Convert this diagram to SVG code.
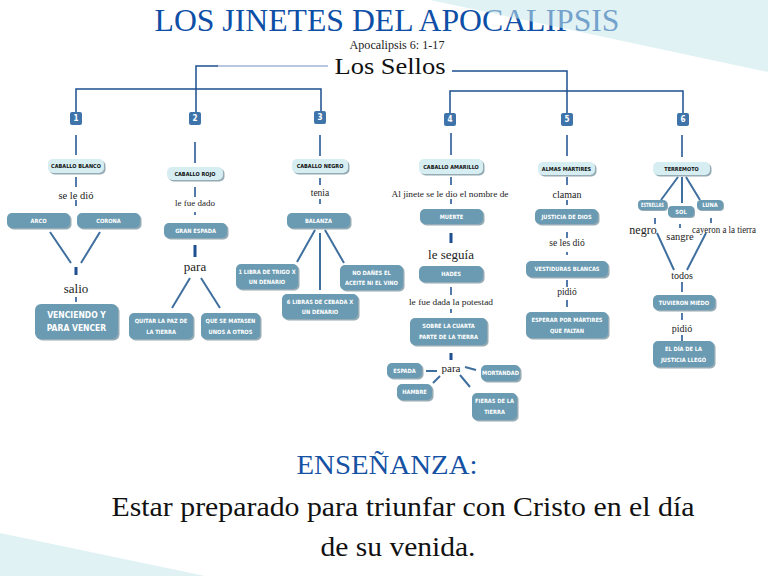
<svg xmlns="http://www.w3.org/2000/svg" width="768" height="576" viewBox="0 0 768 576">
<defs>
<style>
.ln{fill:#d6eef2;stroke:none}
.sn{fill:#6b9bb2;stroke:none}
.sh{fill:#3f6677;opacity:0.55}
.nb{fill:#3f74aa}
.nbt{font-family:"DejaVu Sans Condensed","DejaVu Sans",sans-serif;font-weight:bold;font-size:8px;fill:#fff;text-anchor:middle;dominant-baseline:central}
.lt{font-family:"DejaVu Sans Condensed","DejaVu Sans",sans-serif;font-weight:bold;font-size:5.5px;fill:#111;text-anchor:middle;dominant-baseline:central}
.st{font-family:"DejaVu Sans Condensed","DejaVu Sans",sans-serif;font-weight:bold;font-size:5.7px;fill:#fff;text-anchor:middle;dominant-baseline:central}
.big{font-size:8.5px}
.lbl{font-family:"Liberation Serif",serif;fill:#222;text-anchor:middle;dominant-baseline:central}
.c{fill:none;stroke:#1d4f91;stroke-width:1.5}
.ck{fill:none;stroke:#1d4f91;stroke-width:3}
.cd{fill:none;stroke:#3f6f9f;stroke-width:2}
</style>
</defs>
<rect width="768" height="576" fill="#ffffff"/>
<polygon points="0,533 205,576 0,576" fill="#c9e8eb" opacity="0.55"/>

<text x="387" y="31" font-family="Liberation Serif,serif" font-size="32" fill="#0d4ea6" text-anchor="middle" textLength="465" lengthAdjust="spacingAndGlyphs">LOS JINETES DEL APOCALIPSIS</text>
<polygon points="430,0 768,0 768,72" fill="#c9e8eb" opacity="0.55"/>
<text x="397" y="49" font-family="Liberation Serif,serif" font-size="11.5" fill="#222" text-anchor="middle" textLength="95" lengthAdjust="spacingAndGlyphs">Apocalipsis 6: 1-17</text>
<text x="390" y="74" font-family="Liberation Serif,serif" font-size="24" fill="#111" text-anchor="middle" textLength="111" lengthAdjust="spacingAndGlyphs">Los Sellos</text>

<g id="connectors">
<path class="c" d="M218,66 H196 V89"/>
<path d="M218,66 H328" fill="none" stroke="#9fb6d6" stroke-width="1.5"/>
<path class="c" d="M76,112 V89 H321 V112 M196,89 V113"/>
<path class="c" d="M452,71 H567 V91 M450,115 V91 H683 V115 M567,91 V115"/>
<path class="c" d="M76,135 V155 M76,177 V187 M76,200 V206 M76,297 V302"/>
<path class="cd" d="M50,232 L71,263 M100,232 L81,263"/>
<path class="ck" d="M76,267 V275"/>
<path class="c" d="M195,142 V163 M195,187 V197 M195,212 V215"/>
<path class="ck" d="M195,245 V257"/>
<path class="cd" d="M190,278 L172,308 M201,278 L220,308"/>
<path class="c" d="M320,135 V156 M320,178 V185 M320,199 V204"/>
<path class="cd" d="M315,230 L297,262 M320,233 V290 M325,230 L344,263"/>
<path class="c" d="M451,133 V155 M451,177 V185 M451,199 V204 M451,287 V295 M451,309 V313"/>
<path class="ck" d="M451,233 V243 M451,353 V360"/>
<path class="cd" d="M426,371 H437 M465,367 L476,370 M433,383 L440,376 M460,375 L470,387"/>
<path class="c" d="M567,135 V156 M567,177 V185 M567,200 V205 M567,232 V238 M567,252 V255 M567,280 V287 M567,300 V307"/>
<path class="c" d="M682,135 V157 M655,218 V224 M680,224 V228 M711,218 V223 M682,282 V292 M682,313 V320 M682,335 V341"/>
<path class="cd" d="M678,177 L661,200 M682,177 V203 M686,177 L700,200 M657,233 L674,270 M706,233 L687,270"/>
</g>

<g id="n1"><rect class="nb" x="70" y="112" width="12" height="13" rx="2"/><text class="nbt" x="76" y="118.5">1</text></g>
<g id="n2"><rect class="nb" x="189" y="112" width="12" height="13" rx="2"/><text class="nbt" x="195" y="118.5">2</text></g>
<g id="n3"><rect class="nb" x="314" y="111" width="12" height="13" rx="2"/><text class="nbt" x="320" y="117.5">3</text></g>
<g id="n4"><rect class="nb" x="444" y="113" width="12" height="13" rx="2"/><text class="nbt" x="450" y="119.5">4</text></g>
<g id="n5"><rect class="nb" x="561" y="113" width="12" height="13" rx="2"/><text class="nbt" x="567" y="119.5">5</text></g>
<g id="n6"><rect class="nb" x="677" y="113" width="12" height="13" rx="2"/><text class="nbt" x="683" y="119.5">6</text></g>

<g id="caballo-blanco"><rect class="sh" x="49.5" y="160.5" width="56" height="14" rx="5"/><rect class="ln" x="48" y="159" width="56" height="14" rx="5"/><text class="lt" x="76" y="166">CABALLO BLANCO</text></g>
<g id="caballo-rojo"><rect class="sh" x="168.5" y="168.5" width="56" height="13" rx="5"/><rect class="ln" x="167" y="167" width="56" height="13" rx="5"/><text class="lt" x="195" y="173.5">CABALLO ROJO</text></g>
<g id="caballo-negro"><rect class="sh" x="293.5" y="160.5" width="56" height="14" rx="5"/><rect class="ln" x="292" y="159" width="56" height="14" rx="5"/><text class="lt" x="320" y="166">CABALLO NEGRO</text></g>
<g id="caballo-amarillo"><rect class="sh" x="420.5" y="160.5" width="64" height="15" rx="5"/><rect class="ln" x="419" y="159" width="64" height="15" rx="5"/><text class="lt" x="451" y="166.5">CABALLO AMARILLO</text></g>
<g id="almas-martires"><rect class="sh" x="539.5" y="163.5" width="57" height="13" rx="5"/><rect class="ln" x="538" y="162" width="57" height="13" rx="5"/><text class="lt" x="566.5" y="168.5">ALMAS MÁRTIRES</text></g>
<g id="terremoto"><rect class="sh" x="654.5" y="163.5" width="57" height="13" rx="5"/><rect class="ln" x="653" y="162" width="57" height="13" rx="5"/><text class="lt" x="681.5" y="168.5">TERREMOTO</text></g>

<g id="arco"><rect class="sh" x="8.5" y="214.5" width="63" height="15" rx="5"/><rect class="sn" x="7" y="213" width="63" height="15" rx="5"/><text class="st" x="38.5" y="220.5">ARCO</text></g>
<g id="corona"><rect class="sh" x="78.5" y="214.5" width="63" height="15" rx="5"/><rect class="sn" x="77" y="213" width="63" height="15" rx="5"/><text class="st" x="108.5" y="220.5">CORONA</text></g>
<g id="venciendo"><rect class="sh" x="36.5" y="305.5" width="83" height="35" rx="6"/><rect class="sn" x="35" y="304" width="83" height="35" rx="6"/><text class="st big" x="76.5" y="315">VENCIENDO Y</text><text class="st big" x="76.5" y="328">PARA VENCER</text></g>

<g id="gran-espada"><rect class="sh" x="165.5" y="224.5" width="63" height="15" rx="5"/><rect class="sn" x="164" y="223" width="63" height="15" rx="5"/><text class="st" x="195.5" y="230.5">GRAN ESPADA</text></g>
<g id="quitar-paz"><rect class="sh" x="130.5" y="314.5" width="64" height="26" rx="5"/><rect class="sn" x="129" y="313" width="64" height="26" rx="5"/><text class="st" x="161" y="321">QUITAR LA PAZ DE</text><text class="st" x="161" y="332">LA TIERRA</text></g>
<g id="matasen"><rect class="sh" x="202.5" y="314.5" width="59" height="26" rx="5"/><rect class="sn" x="201" y="313" width="59" height="26" rx="5"/><text class="st" x="230.5" y="321">QUE SE MATASEN</text><text class="st" x="230.5" y="332">UNOS A OTROS</text></g>

<g id="balanza"><rect class="sh" x="288.5" y="214.5" width="63" height="15" rx="5"/><rect class="sn" x="287" y="213" width="63" height="15" rx="5"/><text class="st" x="318.5" y="220.5">BALANZA</text></g>
<g id="trigo"><rect class="sh" x="237.5" y="265.5" width="62" height="25" rx="5"/><rect class="sn" x="236" y="264" width="62" height="25" rx="5"/><text class="st" x="267" y="271.5">1 LIBRA DE TRIGO X</text><text class="st" x="267" y="282">UN DENARIO</text></g>
<g id="cebada"><rect class="sh" x="283.5" y="295.5" width="76" height="25" rx="5"/><rect class="sn" x="282" y="294" width="76" height="25" rx="5"/><text class="st" x="320" y="301.5">6 LIBRAS DE CEBADA X</text><text class="st" x="320" y="312">UN DENARIO</text></g>
<g id="aceite"><rect class="sh" x="341.5" y="266.5" width="63" height="25" rx="5"/><rect class="sn" x="340" y="265" width="63" height="25" rx="5"/><text class="st" x="371.5" y="272.5">NO DAÑES EL</text><text class="st" x="371.5" y="283">ACEITE NI EL VINO</text></g>

<g id="muerte"><rect class="sh" x="421.5" y="210.5" width="63" height="15" rx="5"/><rect class="sn" x="420" y="209" width="63" height="15" rx="5"/><text class="st" x="451.5" y="216.5">MUERTE</text></g>
<g id="hades"><rect class="sh" x="420.5" y="267.5" width="64" height="16" rx="5"/><rect class="sn" x="419" y="266" width="64" height="16" rx="5"/><text class="st" x="451" y="274">HADES</text></g>
<g id="cuarta"><rect class="sh" x="411.5" y="319.5" width="77" height="27" rx="5"/><rect class="sn" x="410" y="318" width="77" height="27" rx="5"/><text class="st" x="448.5" y="326">SOBRE LA CUARTA</text><text class="st" x="448.5" y="337">PARTE DE LA TIERRA</text></g>
<g id="espada"><rect class="sh" x="388.5" y="364.5" width="35" height="15" rx="5"/><rect class="sn" x="387" y="363" width="35" height="15" rx="5"/><text class="st" x="404.5" y="370.5">ESPADA</text></g>
<g id="mortandad"><rect class="sh" x="482.5" y="366.5" width="39" height="16" rx="5"/><rect class="sn" x="481" y="365" width="39" height="16" rx="5"/><text class="st" x="500.5" y="373">MORTANDAD</text></g>
<g id="hambre"><rect class="sh" x="398.5" y="385.5" width="35" height="16" rx="5"/><rect class="sn" x="397" y="384" width="35" height="16" rx="5"/><text class="st" x="414.5" y="392">HAMBRE</text></g>
<g id="fieras"><rect class="sh" x="473.5" y="394.5" width="45" height="27" rx="5"/><rect class="sn" x="472" y="393" width="45" height="27" rx="5"/><text class="st" x="494.5" y="401">FIERAS DE LA</text><text class="st" x="494.5" y="412">TIERRA</text></g>

<g id="justicia"><rect class="sh" x="536.5" y="210.5" width="63" height="15" rx="5"/><rect class="sn" x="535" y="209" width="63" height="15" rx="5"/><text class="st" x="566.5" y="216.5">JUSTICIA DE DIOS</text></g>
<g id="vestiduras"><rect class="sh" x="527.5" y="262.5" width="82" height="16" rx="5"/><rect class="sn" x="526" y="261" width="82" height="16" rx="5"/><text class="st" x="567" y="269">VESTIDURAS BLANCAS</text></g>
<g id="esperar"><rect class="sh" x="527.5" y="313.5" width="82" height="26" rx="5"/><rect class="sn" x="526" y="312" width="82" height="26" rx="5"/><text class="st" x="567" y="320">ESPERAR POR MÁRTIRES</text><text class="st" x="567" y="331">QUE FALTAN</text></g>

<g id="estrellas"><rect class="sh" x="639" y="201" width="29" height="10" rx="4"/><rect class="sn" x="638" y="200" width="29" height="10" rx="4"/><text class="st" x="652.5" y="205" font-size="3.8" textLength="23" lengthAdjust="spacingAndGlyphs">ESTRELLAS</text></g>
<g id="sol"><rect class="sh" x="669" y="207" width="26" height="11" rx="4"/><rect class="sn" x="668" y="206" width="26" height="11" rx="4"/><text class="st" x="681" y="211.5" font-size="4">SOL</text></g>
<g id="luna"><rect class="sh" x="698" y="201" width="26" height="10" rx="4"/><rect class="sn" x="697" y="200" width="26" height="10" rx="4"/><text class="st" x="710" y="205" font-size="4">LUNA</text></g>
<g id="tuvieron"><rect class="sh" x="654.5" y="296.5" width="62" height="15" rx="5"/><rect class="sn" x="653" y="295" width="62" height="15" rx="5"/><text class="st" x="684" y="302.5">TUVIERON MIEDO</text></g>
<g id="dia-justicia"><rect class="sh" x="654.5" y="342.5" width="61" height="26" rx="5"/><rect class="sn" x="653" y="341" width="61" height="26" rx="5"/><text class="st" x="683.5" y="349">EL DÍA DE LA</text><text class="st" x="683.5" y="360">JUSTICIA LLEGÓ</text></g>

<g id="labels">
<text class="lbl" x="76" y="195" font-size="10.5">se le dió</text>
<text class="lbl" x="76" y="288" font-size="13">salio</text>
<text class="lbl" x="195" y="203" font-size="9">le fue dado</text>
<text class="lbl" x="195" y="266" font-size="13">para</text>
<text class="lbl" x="320" y="193" font-size="9.5">tenia</text>
<text class="lbl" x="450" y="194" font-size="9" textLength="117" lengthAdjust="spacingAndGlyphs">Al jinete se le dio el nombre de</text>
<text class="lbl" x="451" y="254" font-size="13">le seguía</text>
<text class="lbl" x="451" y="302" font-size="9" textLength="84" lengthAdjust="spacingAndGlyphs">le fue dada la potestad</text>
<text class="lbl" x="451" y="368" font-size="11">para</text>
<text class="lbl" x="567" y="194" font-size="10">claman</text>
<text class="lbl" x="567" y="243" font-size="9.5">se les dió</text>
<text class="lbl" x="567" y="292" font-size="9.5">pidió</text>
<text class="lbl" x="643" y="230" font-size="12">negro</text>
<text class="lbl" x="680" y="236" font-size="10.5">sangre</text>
<text class="lbl" x="724" y="229" font-size="10" textLength="64" lengthAdjust="spacingAndGlyphs">cayeron a la tierra</text>
<text class="lbl" x="682" y="275" font-size="10">todos</text>
<text class="lbl" x="682" y="328" font-size="10">pidió</text>
</g>

<text x="387" y="474" font-family="Liberation Serif,serif" font-size="28" fill="#1552a3" text-anchor="middle" textLength="181" lengthAdjust="spacingAndGlyphs">ENSEÑANZA:</text>
<text x="403" y="516" font-family="Liberation Serif,serif" font-size="27" fill="#111" text-anchor="middle" textLength="583" lengthAdjust="spacingAndGlyphs">Estar preparado para triunfar con Cristo en el día</text>
<text x="398" y="556" font-family="Liberation Serif,serif" font-size="27" fill="#111" text-anchor="middle" textLength="155" lengthAdjust="spacingAndGlyphs">de su venida.</text>
</svg>
